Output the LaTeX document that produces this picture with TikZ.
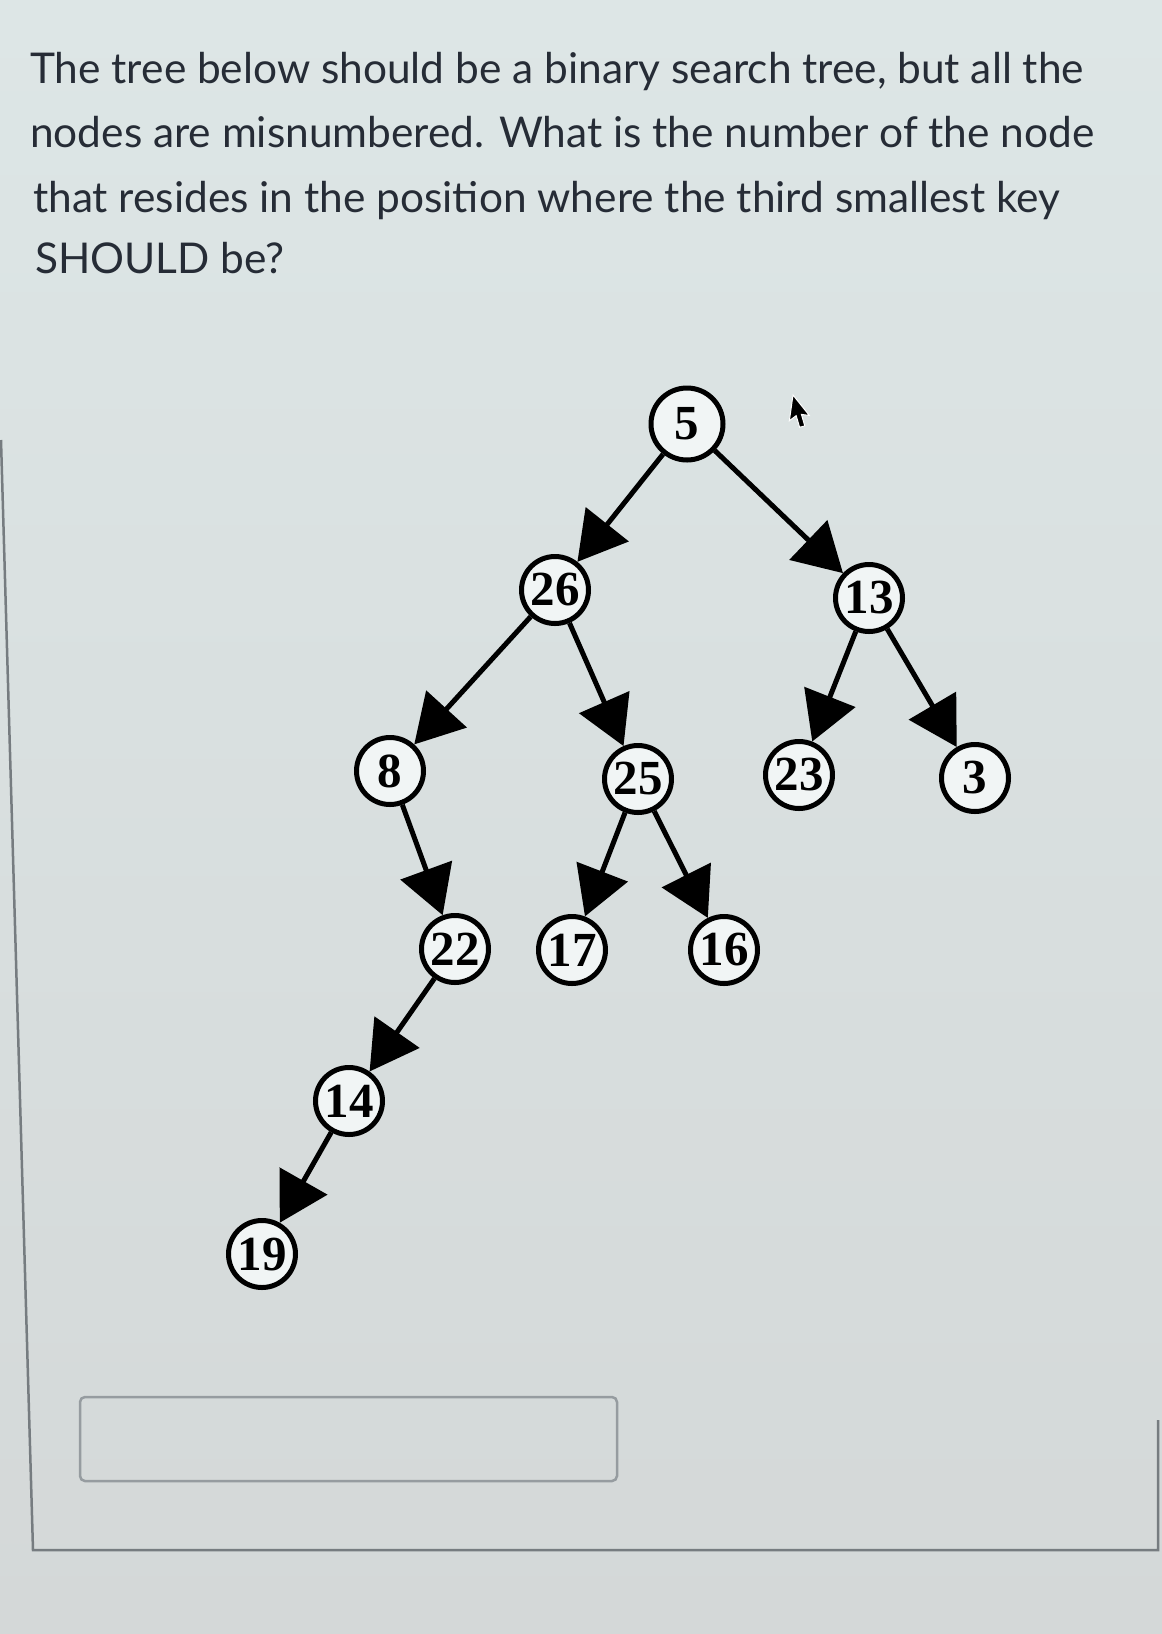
\documentclass[tikz,border=0pt]{standalone}
\usepackage{fontspec}
\setmainfont{Lato}
\newfontfamily\numfont{Liberation Serif}
\usetikzlibrary{arrows.meta}
\definecolor{bgtop}{RGB}{221,230,230}
\definecolor{bgbot}{RGB}{212,216,216}
\definecolor{txt}{RGB}{38,44,54}
\definecolor{panelline}{RGB}{118,124,128}
\definecolor{boxline}{RGB}{150,156,160}
\tikzset{
  treenode/.style={circle, draw=black, line width=5pt, fill=white!60!bgtop,
    minimum size=67pt, inner sep=0pt, font=\numfont\bfseries\fontsize{49}{49}\selectfont},
  treeedge/.style={line width=5pt, -{Triangle[length=48pt, width=54pt]}},
  qline/.style={anchor=base west, text=txt, font=\fontsize{42.4}{50}\selectfont, inner sep=0pt}
}
\begin{document}
\begin{tikzpicture}[x=1pt, y=-1pt]
\useasboundingbox (0,0) rectangle (1162,1634);
\shade[top color=bgtop, bottom color=bgbot] (0,0) rectangle (1162,1634);
% panel borders
\draw[panelline, line width=2.5pt] (1,440) -- (33,1550) -- (1158,1550) -- (1158,1420);
% answer box
\draw[boxline, line width=2.5pt, rounded corners=5pt] (80,1397) rectangle (617,1481);
% question text
\node[qline] (l1) at (30,83) {The tree below should be a binary search tree, but all the};
\node[qline] (l2) at (30,147) {nodes are misnumbered. What is the number of the node};
\node[qline] (l3) at (33,212) {that resides in the position where the third smallest key};
\node[qline] (l4) at (35,273) {SHOULD be?};
% tree
\node[treenode, minimum size=72pt] (n5) at (687,424) {5};
\node[treenode] (n26) at (555,590) {26};
\node[treenode] (n13) at (869,598) {13};
\node[treenode] (n8) at (390,771) {8};
\node[treenode] (n25) at (638,779) {25};
\node[treenode] (n23) at (799,775) {23};
\node[treenode] (n3) at (975,778) {3};
\node[treenode] (n22) at (455,949) {22};
\node[treenode] (n17) at (572,950) {17};
\node[treenode] (n16) at (724,950) {16};
\node[treenode] (n14) at (349,1101) {14};
\node[treenode] (n19) at (262,1254) {19};
\draw[treeedge] (n5) -- (n26);
\draw[treeedge] (n5) -- (n13);
\draw[treeedge] (n26) -- (n8);
\draw[treeedge] (n26) -- (n25);
\draw[treeedge] (n13) -- (n23);
\draw[treeedge] (n13) -- (n3);
\draw[treeedge] (n8) -- (n22);
\draw[treeedge] (n25) -- (n17);
\draw[treeedge] (n25) -- (n16);
\draw[treeedge] (n22) -- (n14);
\draw[treeedge] (n14) -- (n19);
% mouse cursor
\fill[black, draw=white, line width=1pt, shift={(793,395)}, rotate=-8]
  (0,0) -- (0,26) -- (6,20) -- (11,31) -- (16,29) -- (11,18) -- (19,18) -- cycle;
\end{tikzpicture}
\end{document}
